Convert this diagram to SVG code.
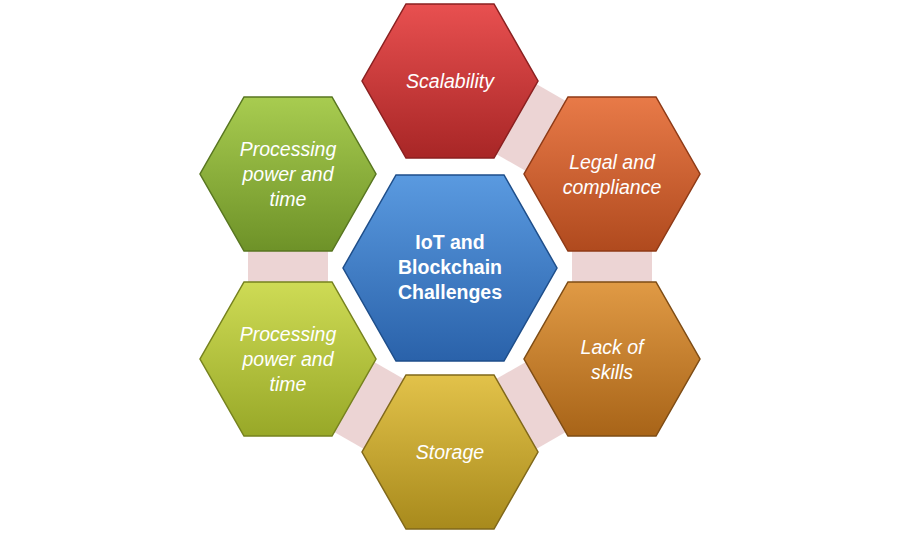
<svg xmlns="http://www.w3.org/2000/svg" width="900" height="543" viewBox="0 0 900 543">
<style>
.t{font-family:"Liberation Sans",Arial,sans-serif;font-style:italic;font-size:19.5px;fill:#fff;text-anchor:middle}
.c{font-family:"Liberation Sans",Arial,sans-serif;font-weight:bold;font-size:19.5px;fill:#fff;text-anchor:middle}
.b{fill:#e9cccc;opacity:0.85}
.h{stroke-width:1.5}
</style>
<defs>
<linearGradient id="gr" x1="0" y1="0" x2="0" y2="1"><stop offset="0" stop-color="#e85050"/><stop offset="1" stop-color="#a82626"/></linearGradient>
<linearGradient id="go" x1="0" y1="0" x2="0" y2="1"><stop offset="0" stop-color="#e87a48"/><stop offset="1" stop-color="#b04a1e"/></linearGradient>
<linearGradient id="gl" x1="0" y1="0" x2="0" y2="1"><stop offset="0" stop-color="#e09a45"/><stop offset="1" stop-color="#a86418"/></linearGradient>
<linearGradient id="gs" x1="0" y1="0" x2="0" y2="1"><stop offset="0" stop-color="#e2c24a"/><stop offset="1" stop-color="#a88a1c"/></linearGradient>
<linearGradient id="gy" x1="0" y1="0" x2="0" y2="1"><stop offset="0" stop-color="#cedb55"/><stop offset="1" stop-color="#98a828"/></linearGradient>
<linearGradient id="gg" x1="0" y1="0" x2="0" y2="1"><stop offset="0" stop-color="#a8cc50"/><stop offset="1" stop-color="#6e9228"/></linearGradient>
<linearGradient id="gb" x1="0" y1="0" x2="0" y2="1"><stop offset="0" stop-color="#5a9ae0"/><stop offset="1" stop-color="#2a62aa"/></linearGradient>
</defs>
<g id="connectors">
<polygon class="b" points="470,46 632,139 592,209 430,116"/>
<polygon class="b" points="572,174 652,174 652,359 572,359"/>
<polygon class="b" points="592,324 632,394 470,487 430,417"/>
<polygon class="b" points="470,417 308,324 268,394 430,487"/>
<polygon class="b" points="248,174 328,174 328,359 248,359"/>
</g>
<g id="scalability"><polygon class="h" fill="url(#gr)" stroke="#8a2020" points="406,4 494,4 538,81 494,158 406,158 362,81"/><text class="t" x="450" y="88">Scalability</text></g>
<g id="legal"><polygon class="h" fill="url(#go)" stroke="#8e3a16" points="568,97 656,97 700,174 656,251 568,251 524,174"/><text class="t" x="612" y="169">Legal and</text><text class="t" x="612" y="194">compliance</text></g>
<g id="lack"><polygon class="h" fill="url(#gl)" stroke="#7e4c14" points="568,282 656,282 700,359 656,436 568,436 524,359"/><text class="t" x="612" y="354">Lack of</text><text class="t" x="612" y="379">skills</text></g>
<g id="storage"><polygon class="h" fill="url(#gs)" stroke="#80681a" points="406,375 494,375 538,452 494,529 406,529 362,452"/><text class="t" x="450" y="459">Storage</text></g>
<g id="proc2"><polygon class="h" fill="url(#gy)" stroke="#76821e" points="244,282 332,282 376,359 332,436 244,436 200,359"/><text class="t" x="288" y="341">Processing</text><text class="t" x="288" y="366">power and</text><text class="t" x="288" y="391">time</text></g>
<g id="proc1"><polygon class="h" fill="url(#gg)" stroke="#587620" points="244,97 332,97 376,174 332,251 244,251 200,174"/><text class="t" x="288" y="156">Processing</text><text class="t" x="288" y="181">power and</text><text class="t" x="288" y="206">time</text></g>
<g id="center"><polygon class="h" fill="url(#gb)" stroke="#1e4e8a" points="396,175 504,175 557,268 504,361 396,361 343,268"/><text class="c" x="450" y="249">IoT and</text><text class="c" x="450" y="274">Blockchain</text><text class="c" x="450" y="299">Challenges</text></g>
</svg>
